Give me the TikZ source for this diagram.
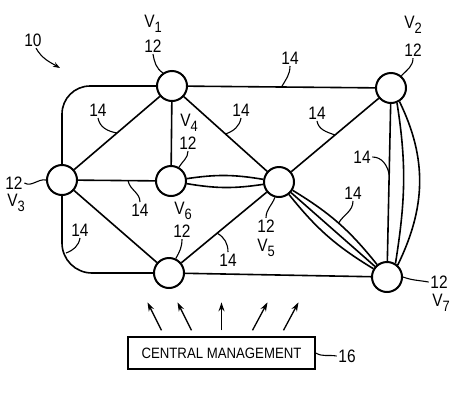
\documentclass[tikz,border=0pt]{standalone}
\usepackage{fontspec}
\setmainfont{Liberation Sans}
\usetikzlibrary{arrows.meta}
\newcommand{\nar}[1]{\scalebox{0.86}[1]{#1}}
\newcommand{\vlab}[1]{\nar{V\raisebox{-5pt}[0pt][0pt]{\fontsize{15}{15}\selectfont #1}}}

\begin{document}
\begin{tikzpicture}[
x=1pt, y=1pt,
line width=1.6pt
]

\tikzstyle{vtx} = [draw, circle, line width=2pt, minimum size=30pt, inner sep=0pt]
\tikzstyle{lbl} = [inner sep=1pt, font=\fontsize{18}{18}\selectfont]
\tikzstyle{lead} = [line width=1.1pt]
\tikzstyle{arr} = [line width=1.3pt, -{Stealth[length=9pt,width=6pt]}]

\useasboundingbox (0,0) rectangle (474,-413);

% stations
\node[vtx] (v1) at (172,-86) {};
\node[vtx] (v2) at (391,-88) {};
\node[vtx] (v3) at (62,-180) {};
\node[vtx] (v4) at (171,-181) {};
\node[vtx] (v5) at (279,-182) {};
\node[vtx] (v6) at (169,-273) {};
\node[vtx] (v7) at (387,-277) {};

% links
\draw (v1) -- coordinate[pos=0.5] (e12) (v2);
\draw (v1) -- coordinate[pos=0.5] (e13) (v3);
\draw (v1) -- (v4);
\draw (v1) -- coordinate[pos=0.5] (e15) (v5);
\draw (v2) -- coordinate[pos=0.5] (e25) (v5);
\draw (v2) -- coordinate[pos=0.45] (e27) (v7);
\draw (v2.-68) to[out=-81,in=81] (v7.58);
\draw (v2.-58) to[out=-64,in=64] (v7.48);
\draw (v3) -- coordinate[pos=0.65] (e34) (v4);
\draw (v3) -- (v6);
\draw (v4) to[bend left=9] (v5);
\draw (v4) to[bend right=9] (v5);
\draw (v5) to[bend left=10] coordinate[pos=0.5] (e57) (v7);
\draw (v5) -- (v7);
\draw (v5) to[bend right=10] (v7);
\draw (v6) -- coordinate[pos=0.42] (e65) (v5);
\draw (v6) -- (v7);
\draw[rounded corners=28pt] (v1) -| (v3);
\draw[rounded corners=30pt] (v3) |- (v6);
\coordinate (e36) at (66,-253);

% link numbers
\node[lbl] (l12) at (290,-58) {\nar{14}};
\node[lbl] (l13) at (98,-110) {\nar{14}};
\node[lbl] (l15) at (241,-110) {\nar{14}};
\node[lbl] (l25) at (317,-113) {\nar{14}};
\node[lbl] (l27) at (362,-157) {\nar{14}};
\node[lbl] (l57) at (353,-193) {\nar{14}};
\node[lbl] (l34) at (140,-210) {\nar{14}};
\node[lbl] (l36) at (80,-230) {\nar{14}};
\node[lbl] (l65) at (228,-260) {\nar{14}};

\draw[lead] (l12.south) to[out=-90,in=60] (e12);
\draw[lead] (l13.south) to[out=-80,in=170] (e13);
\draw[lead] (l15.south) to[out=-100,in=20] (e15);
\draw[lead] (l25.south) to[out=-80,in=160] (e25);
\draw[lead] (l27.east) to[out=0,in=100] (e27);
\draw[lead] (l57.south) to[out=-90,in=60] (e57);
\draw[lead] (l34.north) to[out=90,in=-80] (e34);
\draw[lead] (l36.south) to[out=-100,in=20] (e36);
\draw[lead] (l65.north) to[out=90,in=-30] (e65);

% station names
\node[lbl] (n1) at (153,-46) {\nar{12}};
\node[lbl] at (153,-21) {\vlab{1}};
\node[lbl] (n2) at (413,-50) {\nar{12}};
\node[lbl] at (413,-22) {\vlab{2}};
\node[lbl] (n3) at (14,-183) {\nar{12}};
\node[lbl] at (16,-200) {\vlab{3}};
\node[lbl] (n4) at (188,-143) {\nar{12}};
\node[lbl] at (189,-120) {\vlab{4}};
\node[lbl] (n6) at (182,-231) {\nar{12}};
\node[lbl] at (183,-208) {\vlab{6}};
\node[lbl] (n5) at (266,-226) {\nar{12}};
\node[lbl] at (266,-245) {\vlab{5}};
\node[lbl] (n7) at (439,-282) {\nar{12}};
\node[lbl] at (441,-300) {\vlab{7}};

\draw[lead] (n1.south) to[out=-80,in=145] (v1.125);
\draw[lead] (n2.south) to[out=-90,in=45] (v2.50);
\draw[lead] (n3.east) to[out=-30,in=170] (v3.west);
\draw[lead] (n4.south) to[out=-90,in=60] (v4.60);
\draw[lead] (n6.south) to[out=-90,in=60] (v6.65);
\draw[lead] (n5.north) to[out=90,in=-110] (v5.255);
\draw[lead] (n7.west) to[out=170,in=-20] (v7.east);

% network
\node[lbl] (n10) at (33,-40) {\nar{10}};
\coordinate (net) at (60,-68);
\draw[lead,-{Stealth[length=7pt,width=5pt]}] ([xshift=3pt]n10.south) to[out=-60,in=150] (net);

% management
\node[draw, line width=1.4pt, minimum width=187pt, minimum height=32pt, inner sep=0pt,
  font=\fontsize{15}{15}\selectfont] (box) at (221.5,-353) {\scalebox{0.88}[1]{CENTRAL MANAGEMENT}};
\node[lbl] (n16) at (347,-356) {\nar{16}};
\draw[lead] (box.east) to[out=-30,in=170] (n16.west);

\foreach \s/\e in {-60/-74, -30/-44, 0/0, 31/46, 62/77}
  \draw[arr] ([xshift=\s pt,yshift=6pt]box.north) -- ([xshift=\e pt,yshift=34pt]box.north);

\end{tikzpicture}
\end{document}
